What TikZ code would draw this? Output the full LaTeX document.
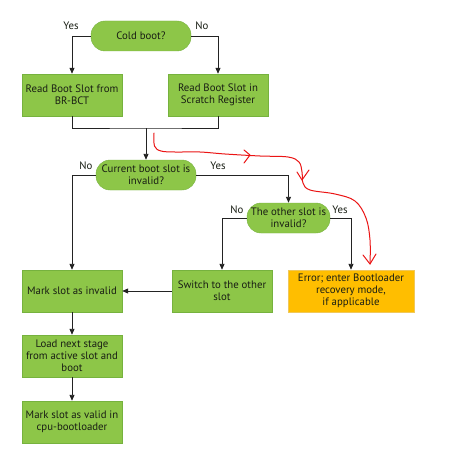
\documentclass[tikz,border=0pt]{standalone}
\usepackage{fontspec}
\setmainfont{PT Sans}
\usetikzlibrary{arrows.meta}
\definecolor{gfill}{RGB}{141,198,72}
\definecolor{gborder}{RGB}{118,178,62}
\definecolor{ofill}{RGB}{255,190,0}
\definecolor{oborder}{RGB}{240,200,90}
\definecolor{txt}{RGB}{25,30,20}
\definecolor{ln}{RGB}{35,35,35}
\definecolor{redpen}{RGB}{235,20,20}
\begin{document}
\begin{tikzpicture}[x=1pt,y=-1pt,
  font=\fontsize{10.8}{12}\selectfont,
  box/.style={draw=gborder,fill=gfill,text=txt,align=center,minimum width=100pt,minimum height=42pt,inner sep=1pt},
  pill/.style={draw=gborder,fill=gfill,text=txt,align=center,minimum width=100pt,minimum height=30pt,rounded corners=14pt,inner sep=1pt},
  errbox/.style={draw=oborder,fill=ofill,text=txt,align=center,minimum width=126pt,minimum height=42pt,inner sep=1pt},
  conn/.style={draw=ln,line width=0.9pt},
  arr/.style={conn,-{Triangle[length=6pt,width=5pt]}},
  lbl/.style={text=txt,inner sep=0pt},
  red/.style={draw=redpen,line width=1pt,line cap=round,line join=round}
]
\useasboundingbox[fill=white] (0,0) rectangle (474,460);
\node[pill] (cb) at (141,36) {Cold boot?};
\node[box] (b1) at (72,95) {Read Boot Slot from\\BR-BCT};
\node[box] (b2) at (218,95) {Read Boot Slot in\\Scratch Register};
\coordinate (m) at (146,128);
\node[pill] (d2) at (146,175) {Current boot slot is\\invalid?};
\node[pill,minimum width=83pt] (d3) at (288.5,218) {The other slot is\\invalid?};
\node[box] (mk) at (72,291) {Mark slot as invalid};
\node[box] (sw) at (222,291) {Switch to the other\\slot};
\node[errbox] (err) at (351,291) {Error; enter Bootloader\\recovery mode,\\if applicable};
\node[box] (ld) at (72,356) {Load next stage\\from active slot and\\boot};
\node[box] (mv) at (72,422) {Mark slot as valid in\\cpu-bootloader};

\node[lbl] (y1) at (71,26) {Yes};
\node[lbl] (n1) at (202,26) {No};
\node[lbl] (n2) at (86,166) {No};
\node[lbl] (y2) at (218,166) {Yes};
\node[lbl] (n3) at (237,210) {No};
\node[lbl] (y3) at (340,210) {Yes};

\draw[arr] (cb.west) -| (b1.north);
\draw[arr] (cb.east) -| (b2.north);
\draw[conn] (b1.south) |- (m) -| (b2.south);
\draw[arr] (m) -- (d2.north);
\draw[arr] (d2.west) -| (mk.north);
\draw[arr] (d2.east) -| (d3.north);
\draw[arr] (d3.west) -| (sw.north);
\draw[arr] (d3.east) -| (err.north);
\draw[arr] (sw.west) -- (mk.east);
\draw[arr] (mk.south) -- (ld.north);
\draw[arr] (ld.south) -- (mv.north);

% hand-drawn red annotation
\draw[red] plot[smooth,tension=0.6] coordinates {(154,133) (154.5,146) (161,151) (175,152) (200,152) (225,154) (260,156) (288,157) (299,162) (302,172) (303,183) (310,190) (335,194) (355,201) (366,218) (370,240) (370,264)};
\draw[red] (244,150) -- (250,155) -- (244,163);
\draw[red] (297,172) -- (302,180) -- (309,170);
\draw[red] (363,255) -- (370,264) -- (376,254);
\end{tikzpicture}
\end{document}
